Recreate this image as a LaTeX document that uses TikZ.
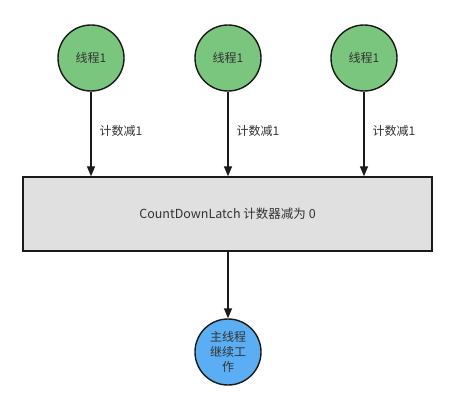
\documentclass[tikz,border=0pt]{standalone}
\usepackage{fontspec}
\setmainfont{Noto Sans CJK SC}
\usetikzlibrary{arrows.meta}
\definecolor{gfill}{HTML}{7BC67E}
\definecolor{bfill}{HTML}{5BAEF4}
\definecolor{rfill}{HTML}{E0E0E0}
\definecolor{txt}{HTML}{333333}
\definecolor{edge}{HTML}{1A1A1A}
\begin{document}
\begin{tikzpicture}[x=1pt,y=-1pt,
  thread/.style={circle,draw=edge,line width=1.4pt,fill=gfill,minimum size=66pt,inner sep=0pt,font=\fontsize{12}{14}\selectfont,text=txt},
  mainth/.style={circle,draw=edge,line width=1.4pt,fill=bfill,minimum size=66pt,inner sep=0pt,font=\fontsize{12}{15}\selectfont,text=txt,align=center},
  latch/.style={rectangle,draw=edge,line width=1.4pt,fill=rfill,minimum width=409pt,minimum height=74pt,inner sep=0pt,font=\fontsize{12.5}{15}\selectfont,text=txt},
  conn/.style={draw=edge,line width=1.4pt,-{Triangle[length=10pt,width=8pt]}},
  lbl/.style={font=\fontsize{12}{14}\selectfont,text=txt,anchor=west}]
\useasboundingbox (0,0) rectangle (474,409);
\fill[white] (0,0) rectangle (474,409);
\node[thread] (t1) at (91,58) {线程1};
\node[thread] (t2) at (228,58) {线程1};
\node[thread] (t3) at (364,58) {线程1};
\node[latch] (box) at (227.5,214) {CountDownLatch 计数器减为 0};
\node[mainth] (m) at (228,352) {主线程\\继续工\\作};
\draw[conn] (t1) -- (t1 |- box.north);
\draw[conn] (t2) -- (t2 |- box.north);
\draw[conn] (t3) -- (t3 |- box.north);
\draw[conn] (box.south -| m) -- (m);
\node[lbl] (l1) at (96,131) {计数减1};
\node[lbl] (l2) at (233,131) {计数减1};
\node[lbl] (l3) at (369,131) {计数减1};
\end{tikzpicture}
\end{document}
